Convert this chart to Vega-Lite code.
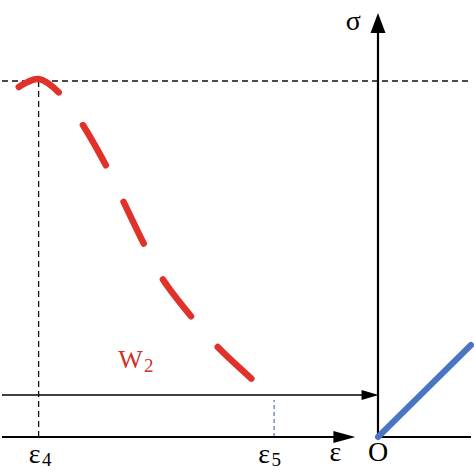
{
 "$schema": "https://vega.github.io/schema/vega-lite/v6.json",
 "width": 474, "height": 474,
 "autosize": {"type": "fit", "contains": "padding"},
 "padding": 0,
 "background": "white",
 "config": {"view": {"stroke": null}},
 "datasets": {
  "guides": [{"x": -380, "y": 356, "x2": 94, "y2": 356}, {"x": -343, "y": 0, "x2": -343, "y2": 356}],
  "eps5": [{"x": -105, "y": 0, "x2": -105, "y2": 37}],
  "axes": [{"x": -380, "y": 0, "x2": -40, "y2": 0}, {"x": 0, "y": 0, "x2": 94, "y2": 0}, {"x": 0, "y": 0, "x2": 0, "y2": 406}],
  "arrowline": [{"x": -380, "y": 42, "x2": -14, "y2": 42}],
  "curve": [
   {"x": -363, "y": 350}, {"x": -343, "y": 358}, {"x": -318, "y": 340}, {"x": -297, "y": 310},
   {"x": -272, "y": 266}, {"x": -258, "y": 237}, {"x": -235, "y": 190}, {"x": -217, "y": 157},
   {"x": -185, "y": 116}, {"x": -162, "y": 90}, {"x": -123, "y": 54}
  ],
  "elastic": [{"x": 0, "y": 0, "x2": 94, "y2": 92}],
  "headR": [{"x": -34, "y": 0}],
  "headU": [{"x": 0, "y": 414}],
  "headS": [{"x": -8, "y": 42}],
  "labels": [{"x": -25, "y": 415, "t": "σ"}, {"x": -43, "y": -16, "t": "ε"}, {"x": 0, "y": -16, "t": "O"}],
  "subs": [{"x": -347, "y": -18, "main": "ε", "sub": "4"}, {"x": -115, "y": -18, "main": "ε", "sub": "5"}],
  "w": [{"x": -250, "y": 77, "main": "W", "sub": "2"}]
 },
 "encoding": {
  "x": {"field": "x", "type": "quantitative", "scale": {"domain": [-380, 94], "nice": false, "zero": false}, "axis": null},
  "y": {"field": "y", "type": "quantitative", "scale": {"domain": [-37, 437], "nice": false, "zero": false}, "axis": null}
 },
 "layer": [
  {"data": {"name": "guides"}, "mark": {"type": "rule", "color": "#111", "strokeWidth": 1.3, "strokeDash": [6, 4]},
   "encoding": {"x2": {"field": "x2"}, "y2": {"field": "y2"}}},
  {"data": {"name": "eps5"}, "mark": {"type": "rule", "color": "#5b6cc0", "strokeWidth": 1.2, "strokeDash": [4, 3]},
   "encoding": {"x2": {"field": "x2"}, "y2": {"field": "y2"}}},
  {"data": {"name": "axes"}, "mark": {"type": "rule", "color": "#000", "strokeWidth": 2.2},
   "encoding": {"x2": {"field": "x2"}, "y2": {"field": "y2"}}},
  {"data": {"name": "arrowline"}, "mark": {"type": "rule", "color": "#000", "strokeWidth": 1.3},
   "encoding": {"x2": {"field": "x2"}, "y2": {"field": "y2"}}},
  {"data": {"name": "curve"}, "mark": {"type": "line", "color": "#e0322a", "strokeWidth": 6.5, "strokeCap": "round", "strokeDash": [46, 41], "interpolate": "catmull-rom"},
   "encoding": {"order": {"field": "x", "type": "quantitative"}}},
  {"data": {"name": "elastic"}, "mark": {"type": "rule", "color": "#4a74c4", "strokeWidth": 6, "strokeCap": "round"},
   "encoding": {"x2": {"field": "x2"}, "y2": {"field": "y2"}}},
  {"data": {"name": "headR"}, "mark": {"type": "point", "shape": "M1,0L-1,-0.55L-1,0.55Z", "size": 484, "filled": true, "color": "#000", "opacity": 1, "strokeWidth": 0}},
  {"data": {"name": "headU"}, "mark": {"type": "point", "shape": "M0,-1L-0.75,1L0.75,1Z", "size": 400, "filled": true, "color": "#000", "opacity": 1, "strokeWidth": 0}},
  {"data": {"name": "headS"}, "mark": {"type": "point", "shape": "M1,0L-1,-0.6L-1,0.6Z", "size": 289, "filled": true, "color": "#000", "opacity": 1, "strokeWidth": 0}},
  {"data": {"name": "labels"}, "mark": {"type": "text", "font": "Liberation Serif", "fontSize": 28, "color": "#000", "baseline": "middle", "align": "center"},
   "encoding": {"text": {"field": "t"}}},
  {"data": {"name": "subs"}, "mark": {"type": "text", "font": "Liberation Serif", "fontSize": 28, "color": "#000", "baseline": "middle", "align": "center"},
   "encoding": {"text": {"field": "main"}}},
  {"data": {"name": "subs"}, "mark": {"type": "text", "font": "Liberation Serif", "fontSize": 19, "color": "#000", "baseline": "middle", "align": "center", "dx": 12, "dy": 5},
   "encoding": {"text": {"field": "sub"}}},
  {"data": {"name": "w"}, "mark": {"type": "text", "font": "Liberation Serif", "fontSize": 26, "color": "#d0302a", "baseline": "middle", "align": "center"},
   "encoding": {"text": {"field": "main"}}},
  {"data": {"name": "w"}, "mark": {"type": "text", "font": "Liberation Serif", "fontSize": 19, "color": "#d0302a", "baseline": "middle", "align": "center", "dx": 18, "dy": 6},
   "encoding": {"text": {"field": "sub"}}}
 ]
}
